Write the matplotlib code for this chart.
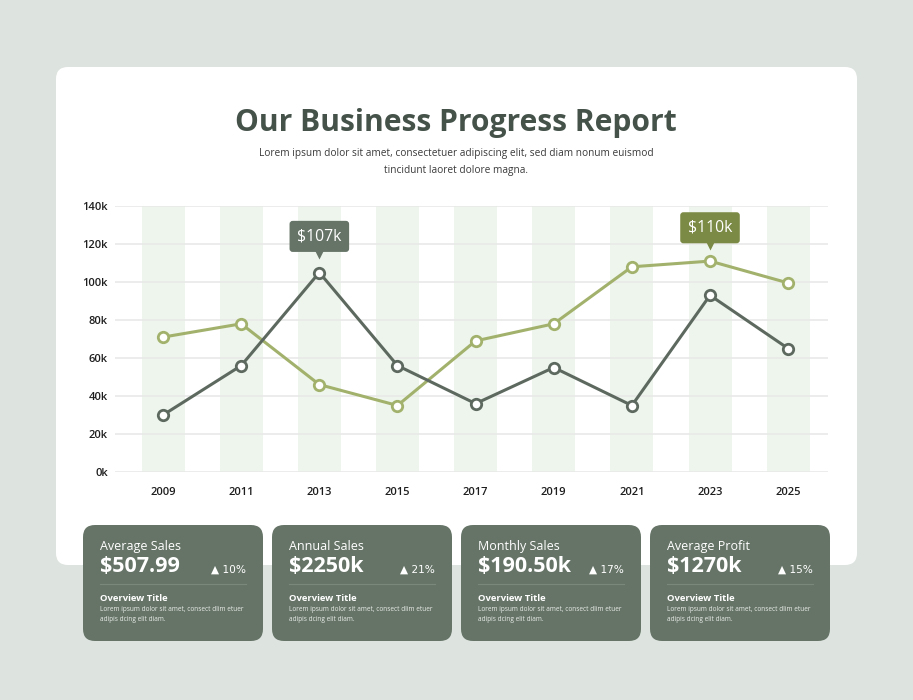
import matplotlib
matplotlib.use("Agg")
import matplotlib.pyplot as plt
from matplotlib.patches import FancyBboxPatch
from matplotlib.lines import Line2D
import matplotlib.transforms as mtransforms

# ---- data ----
years = [2009, 2011, 2013, 2015, 2017, 2019, 2021, 2023, 2025]
series_dark = [30, 56, 105, 56, 36, 55, 35, 93, 65]
series_light = [71, 78, 46, 35, 69, 78, 108, 111, 99.5]
y_ticks = [0, 20, 40, 60, 80, 100, 120, 140]
y_tick_labels = ["0k", "20k", "40k", "60k", "80k", "100k", "120k", "140k"]
callout_dark = (2013, "$107k")
callout_light = (2023, "$110k")

card_titles = ["Average Sales", "Annual Sales", "Monthly Sales", "Average Profit"]
card_values = ["$507.99", "$2250k", "$190.50k", "$1270k"]
card_changes = ["10%", "21%", "17%", "15%"]

title = "Our Business Progress Report"
subtitle = "Lorem ipsum dolor sit amet, consectetuer adipiscing elit, sed diam nonum euismod\ntincidunt laoret dolore magna."

# ---- style ----
W, H = 913, 700
BG = "#dde3df"
DARK = "#5d695f"
LIGHT = "#a2b26c"
BAND = "#edf5ec"
CARD = "#667467"
OLIVE = "#7b8a44"
TITLE_C = "#44524a"
FONT = "Open Sans"

plt.rcParams["font.family"] = [FONT, "DejaVu Sans"]

fig = plt.figure(figsize=(W / 100, H / 100), dpi=100)
fig.patch.set_facecolor(BG)


def fx(x):
    return x / W


def fy(y):
    return 1 - y / H


def rbox(x0, y0, x1, y1, color, r):
    p = FancyBboxPatch((fx(x0), fy(y1)), fx(x1) - fx(x0), fy(y0) - fy(y1),
                       boxstyle=f"round,pad=0,rounding_size={r / W}",
                       transform=fig.transFigure, facecolor=color,
                       edgecolor="none", mutation_aspect=W / H, zorder=0)
    fig.add_artist(p)


# white panel
rbox(56, 67, 857, 565, "white", 12)

fig.text(fx(456), fy(123), title, ha="center", va="center", fontsize=21.6,
         fontweight="bold", color=TITLE_C)
fig.text(fx(456), fy(162), subtitle, ha="center", va="center", fontsize=7.3,
         color="#3a3a3a", linespacing=1.8)

# ---- chart ----
ax = fig.add_axes([fx(115), fy(472), (828 - 115) / W, (472 - 206) / H])
ax.set_facecolor("none")
ax.bar(years, [140] * len(years), width=1.1, color=BAND, zorder=0.2)
ax.set_axisbelow(True)
ax.yaxis.grid(True, color="#e9e9e9", lw=1.2)
ax.set_xlim(2007.77, 2026.02)
ax.set_ylim(0, 140)
ax.set_yticks(y_ticks)
ax.set_yticklabels(y_tick_labels)
ax.set_xticks(years)
ax.set_xticklabels([str(y) for y in years])
for s in ax.spines.values():
    s.set_visible(False)
ax.tick_params(length=0, labelsize=8.0, colors="#1e1e1e")
for lab in ax.get_xticklabels() + ax.get_yticklabels():
    lab.set_fontweight("semibold")
ax.tick_params(axis="y", pad=5)
ax.tick_params(axis="x", pad=11)

ax.plot(years, series_light, color=LIGHT, lw=2.2, marker="o", ms=7.5,
        mfc="white", mec=LIGHT, mew=2, zorder=3)
ax.plot(years, series_dark, color=DARK, lw=2.2, marker="o", ms=7.5,
        mfc="white", mec=DARK, mew=2, zorder=4)


def callout(xv, yv, text, color, dy):
    ax.annotate(text, xy=(xv, yv), xytext=(0, dy), textcoords="offset points",
                ha="center", va="center", fontsize=11.3, color="white",
                bbox=dict(boxstyle="round,pad=0.48,rounding_size=0.2",
                          fc=color, ec="none"), zorder=6)
    tr = mtransforms.offset_copy(ax.transData, fig=fig, x=0,
                                 y=dy - 12.5, units="points")
    ax.plot([xv], [yv], marker="v", ms=7, color=color, mec="none",
            transform=tr, zorder=6, clip_on=False)


callout(callout_dark[0], series_dark[years.index(callout_dark[0])],
        callout_dark[1], CARD, 26)
callout(callout_light[0], series_light[years.index(callout_light[0])],
        callout_light[1], OLIVE, 24)

# ---- cards ----
lorem = "Lorem ipsum dolor sit amet, consect dlim etuer\nadipis dcing elit diam."
card_x = [83, 272, 461, 650]
cw = 180
for i, x0 in enumerate(card_x):
    rbox(x0, 525, x0 + cw, 641, CARD, 12)
    tx = x0 + 17
    rx = x0 + cw - 17
    fig.text(fx(tx), fy(546.5), card_titles[i], ha="left", va="center",
             fontsize=9, color="white")
    fig.text(fx(tx), fy(566.5), card_values[i], ha="left", va="center",
             fontsize=15.5, fontweight="bold", color="white")
    fig.text(fx(rx), fy(569.5), "▲ " + card_changes[i], ha="right",
             va="center", fontsize=7.6, color="white",
             family=["DejaVu Sans"])
    fig.add_artist(Line2D([fx(tx), fx(rx)], [fy(584), fy(584)],
                          transform=fig.transFigure, color="#7a887b", lw=0.8))
    fig.text(fx(tx), fy(598.5), "Overview Title", ha="left", va="center",
             fontsize=6.8, fontweight="bold", color="white")
    fig.text(fx(tx), fy(614.5), lorem, ha="left", va="center",
             fontsize=4.7, color="#e8ece8", linespacing=1.75)

fig.savefig("out.png", dpi=100, facecolor=BG)
